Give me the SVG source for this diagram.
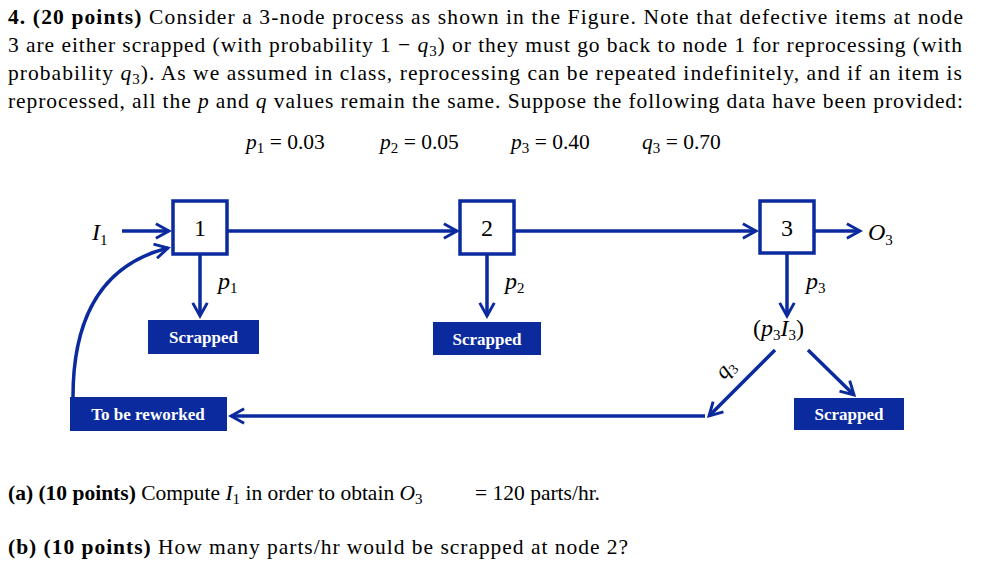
<svg xmlns="http://www.w3.org/2000/svg" width="990" height="578" viewBox="0 0 990 578">
<style>
.t{font-family:"Liberation Serif",serif;font-size:21.5px;fill:#000}
.m{font-family:"Liberation Serif",serif;font-style:italic;fill:#000}
.n{font-family:"Liberation Serif",serif;font-size:24px;fill:#000}
.c{stroke:#0a2a9e;stroke-width:3.5;fill:none}
.box{fill:#fff;stroke:#0a2a9e;stroke-width:3.5}
.lb{fill:#0a2a9e}
.lt{font-family:"Liberation Serif",serif;font-weight:bold;font-size:17px;fill:#fff}
</style>
<defs><marker id="a" viewBox="0 0 12 12" refX="10" refY="6" markerWidth="5" markerHeight="5" markerUnits="strokeWidth" orient="auto"><path d="M1,1 L10,6 L1,11" fill="none" stroke="#0a2a9e" stroke-width="2"/></marker></defs>
<rect width="990" height="578" fill="#fff"/>
<text class="t" x="8" y="24" textLength="955" lengthAdjust="spacing"><tspan font-weight="bold">4. (20 points)</tspan> Consider a 3-node process as shown in the Figure.  Note that defective items at node</text>
<text class="t" x="8" y="52" textLength="954" lengthAdjust="spacing">3 are either scrapped (with probability 1 − <tspan font-style="italic">q</tspan><tspan font-size="15" dy="4">3</tspan><tspan dy="-4">) or they must go back to node 1 for reprocessing (with</tspan></text>
<text class="t" x="8" y="80" textLength="954" lengthAdjust="spacing">probability <tspan font-style="italic">q</tspan><tspan font-size="15" dy="4">3</tspan><tspan dy="-4">).  As we assumed in class, reprocessing can be repeated indefinitely, and if an item is</tspan></text>
<text class="t" x="8" y="108" textLength="955" lengthAdjust="spacing">reprocessed, all the <tspan font-style="italic">p</tspan> and <tspan font-style="italic">q</tspan> values remain the same.  Suppose the following data have been provided:</text>
<text class="t" x="246" y="149"><tspan font-style="italic">p</tspan><tspan font-size="15" dy="4">1</tspan><tspan dy="-4"> = 0.03</tspan></text>
<text class="t" x="380" y="149"><tspan font-style="italic">p</tspan><tspan font-size="15" dy="4">2</tspan><tspan dy="-4"> = 0.05</tspan></text>
<text class="t" x="511" y="149"><tspan font-style="italic">p</tspan><tspan font-size="15" dy="4">3</tspan><tspan dy="-4"> = 0.40</tspan></text>
<text class="t" x="642" y="149"><tspan font-style="italic">q</tspan><tspan font-size="15" dy="4">3</tspan><tspan dy="-4"> = 0.70</tspan></text>
<g id="connectors">
<line class="c" x1="122" y1="231" x2="169" y2="231" marker-end="url(#a)"/>
<line class="c" x1="227" y1="231" x2="457" y2="231" marker-end="url(#a)"/>
<line class="c" x1="514" y1="231" x2="756" y2="231" marker-end="url(#a)"/>
<line class="c" x1="814" y1="231" x2="860" y2="231" marker-end="url(#a)"/>
<line class="c" x1="200" y1="254" x2="200" y2="316" marker-end="url(#a)"/>
<line class="c" x1="487" y1="254" x2="487" y2="316" marker-end="url(#a)"/>
<line class="c" x1="787" y1="253" x2="787" y2="316" marker-end="url(#a)"/>
<line class="c" x1="775" y1="350" x2="709" y2="416" marker-end="url(#a)"/>
<line class="c" x1="808" y1="350" x2="854" y2="395" marker-end="url(#a)"/>
<line class="c" x1="705" y1="416" x2="231" y2="416" marker-end="url(#a)"/>
<path class="c" d="M73,397 C73,320 100,265 168,248" marker-end="url(#a)"/>
</g>
<text class="m" x="92" y="240" font-size="24">I<tspan font-size="15" font-style="normal" dy="5">1</tspan></text>
<text class="m" x="868" y="240" font-size="24">O<tspan font-size="15" font-style="normal" dy="5">3</tspan></text>
<text class="m" x="218" y="289" font-size="24">p<tspan font-size="15" font-style="normal" dy="4">1</tspan></text>
<text class="m" x="505" y="289" font-size="24">p<tspan font-size="15" font-style="normal" dy="4">2</tspan></text>
<text class="m" x="806" y="289" font-size="24">p<tspan font-size="15" font-style="normal" dy="4">3</tspan></text>
<text class="m" x="753" y="336" font-size="24"><tspan font-style="normal">(</tspan>p<tspan font-size="15" font-style="normal" dy="4">3</tspan><tspan dy="-4">I</tspan><tspan font-size="15" font-style="normal" dy="4">3</tspan><tspan font-style="normal" dy="-4">)</tspan></text>
<text class="m" x="0" y="0" font-size="22" transform="translate(724,380) rotate(-47)">q<tspan font-size="14" font-style="normal" dy="4">3</tspan></text>
<g id="n1"><rect class="box" x="173" y="201" width="54" height="53"/><text class="n" x="200" y="236" text-anchor="middle">1</text></g>
<g id="n2"><rect class="box" x="460" y="201" width="54" height="53"/><text class="n" x="487" y="236" text-anchor="middle">2</text></g>
<g id="n3"><rect class="box" x="760" y="201" width="54" height="52"/><text class="n" x="787" y="236" text-anchor="middle">3</text></g>
<g id="s1"><rect class="lb" x="148" y="320" width="111" height="34"/><text class="lt" x="203.5" y="343" text-anchor="middle">Scrapped</text></g>
<g id="s2"><rect class="lb" x="433" y="322" width="108" height="33"/><text class="lt" x="487" y="345" text-anchor="middle">Scrapped</text></g>
<g id="s3"><rect class="lb" x="794" y="398" width="110" height="32"/><text class="lt" x="849" y="420" text-anchor="middle">Scrapped</text></g>
<g id="rw"><rect class="lb" x="70" y="397" width="157" height="34"/><text class="lt" x="148" y="420" text-anchor="middle">To be reworked</text></g>
<text class="t" x="8" y="500"><tspan font-weight="bold">(a) (10 points)</tspan><tspan>  Compute </tspan><tspan font-style="italic">I</tspan><tspan font-size="15" dy="4">1</tspan><tspan dy="-4"> in order to obtain </tspan><tspan font-style="italic">O</tspan><tspan font-size="15" dy="4">3</tspan></text>
<text class="t" x="475" y="500">=  120 parts/hr.</text>
<text class="t" x="8" y="554" textLength="620" lengthAdjust="spacing"><tspan font-weight="bold">(b) (10 points)</tspan> How many parts/hr would be scrapped at node 2?</text>
</svg>
